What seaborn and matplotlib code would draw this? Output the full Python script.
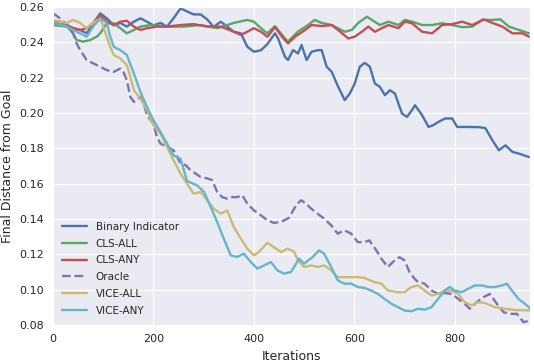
import numpy as np
import pandas as pd
import matplotlib
matplotlib.use("Agg")
import matplotlib.pyplot as plt
import seaborn as sns

# values
binary_x = [0, 28, 54, 67, 80, 94, 107, 121, 134, 147, 161, 174, 187, 200, 214, 227, 240, 254, 267, 280,
            294, 307, 320, 334, 347, 360, 374, 387, 400, 414, 427, 442, 448, 462, 468, 478, 488, 495, 505, 515,
            528, 535, 545, 555, 568, 581, 591, 601, 611, 621, 631, 641, 651, 661, 671, 681, 695, 705, 715, 721,
            735, 748, 757, 768, 781, 795, 805, 821, 848, 861, 875, 888, 901, 915, 928, 948]
binary_y = [0.251, 0.2489, 0.247, 0.2451, 0.2508, 0.2564, 0.2536, 0.2496, 0.251, 0.2489, 0.2517, 0.2536,
            0.2517, 0.2496, 0.251, 0.2489, 0.2536, 0.2592, 0.2575, 0.2558, 0.2558, 0.253, 0.2487, 0.2517,
            0.2489, 0.246, 0.2451, 0.2375, 0.2347, 0.2355, 0.239, 0.2451, 0.2423, 0.2318, 0.230, 0.2356,
            0.2337, 0.2385, 0.230, 0.2347, 0.2356, 0.2356, 0.2262, 0.2233, 0.2148, 0.2073, 0.211, 0.2167,
            0.2262, 0.2284, 0.2262, 0.2167, 0.2148, 0.2101, 0.2129, 0.211, 0.1997, 0.1978, 0.2016, 0.2044,
            0.1988, 0.1921, 0.1931, 0.195, 0.1969, 0.1969, 0.1921, 0.1921, 0.192, 0.1915, 0.1846, 0.1789,
            0.1817, 0.178, 0.177, 0.1751]

cls_all_x = [0, 28, 40, 47, 60, 74, 87, 94, 107, 121, 134, 147, 161, 174, 194, 227, 260, 294, 327, 347,
             360, 387, 400, 414, 427, 442, 462, 468, 488, 508, 521, 535, 555, 581, 595, 608, 625, 635, 651,
             668, 688, 701, 715, 735, 755, 775, 795, 815, 835, 855, 875, 891, 908, 928, 948]
cls_all_y = [0.2498, 0.2489, 0.2451, 0.2413, 0.2404, 0.2413, 0.2432, 0.2451, 0.2508, 0.2508, 0.248,
             0.2451, 0.247, 0.2489, 0.2498, 0.2489, 0.2489, 0.2498, 0.248, 0.2498, 0.251, 0.2527, 0.2517,
             0.248, 0.2451, 0.2492, 0.2422, 0.2404, 0.2461, 0.2498, 0.2527, 0.251, 0.2498, 0.246, 0.247,
             0.251, 0.2545, 0.2527, 0.2498, 0.2517, 0.2498, 0.2527, 0.2517, 0.2498, 0.2498, 0.2508, 0.2498,
             0.2486, 0.2489, 0.2527, 0.2527, 0.253, 0.2489, 0.247, 0.2451]

cls_any_x = [0, 14, 28, 40, 54, 67, 80, 94, 107, 121, 134, 147, 161, 174, 187, 207, 227, 254, 280, 307,
             334, 360, 374, 387, 400, 414, 427, 442, 456, 468, 482, 502, 515, 535, 555, 572, 588, 601, 615,
             628, 641, 655, 668, 688, 701, 715, 735, 755, 775, 795, 815, 835, 858, 875, 895, 915, 935, 948]
cls_any_y = [0.2517, 0.2517, 0.2498, 0.248, 0.247, 0.248, 0.251, 0.2551, 0.2517, 0.2498, 0.2517, 0.2522,
             0.2489, 0.247, 0.248, 0.2489, 0.2489, 0.2498, 0.2503, 0.2489, 0.2489, 0.246, 0.2442, 0.246,
             0.248, 0.246, 0.2432, 0.2486, 0.2432, 0.2394, 0.2432, 0.247, 0.2498, 0.2492, 0.2498, 0.246,
             0.2422, 0.2432, 0.246, 0.2489, 0.246, 0.248, 0.2498, 0.248, 0.2517, 0.2508, 0.246, 0.2451,
             0.2498, 0.2503, 0.2517, 0.2498, 0.253, 0.251, 0.2489, 0.2451, 0.2451, 0.2432]

oracle_x = [0, 14, 28, 40, 47, 54, 67, 80, 94, 107, 121, 134, 140, 147, 154, 161, 167, 174, 180, 187,
            200, 207, 214, 227, 240, 254, 264, 274, 294, 307, 317, 327, 337, 347, 357, 367, 377, 387, 400,
            414, 427, 440, 454, 470, 484, 494, 504, 514, 527, 540, 554, 567, 580, 594, 607, 620, 630, 644,
            654, 667, 677, 690, 700, 710, 720, 727, 740, 754, 767, 780, 794, 807, 820, 830, 844, 857, 870,
            884, 897, 910, 924, 937, 950]
oracle_y = [0.2564, 0.2536, 0.2498, 0.2451, 0.2394, 0.2356, 0.230, 0.2281, 0.2262, 0.2243, 0.2233, 0.2252,
            0.2233, 0.2186, 0.2091, 0.2063, 0.2072, 0.2091, 0.2063, 0.1988, 0.194, 0.1865, 0.1827, 0.1808,
            0.1789, 0.1714, 0.1705, 0.1676, 0.1638, 0.163, 0.162, 0.1553, 0.1524, 0.1515, 0.1524, 0.1524,
            0.1534, 0.1487, 0.1449, 0.1421, 0.1393, 0.1378, 0.1383, 0.1407, 0.1477, 0.1506, 0.1487, 0.1459,
            0.143, 0.1402, 0.1364, 0.1317, 0.1336, 0.1317, 0.1269, 0.1269, 0.1279, 0.1222, 0.1175, 0.1128,
            0.1157, 0.1184, 0.1166, 0.110, 0.1062, 0.1043, 0.1034, 0.0995, 0.0976, 0.0981, 0.0976, 0.0948,
            0.092, 0.0892, 0.0929, 0.0957, 0.0976, 0.092, 0.0873, 0.0863, 0.0863, 0.0816, 0.0825]

vice_all_x = [0, 14, 28, 40, 54, 67, 80, 94, 100, 107, 114, 121, 134, 147, 154, 161, 174, 187, 200, 214,
              227, 240, 254, 267, 280, 294, 307, 320, 334, 347, 360, 374, 387, 400, 410, 427, 440, 454, 467,
              480, 488, 500, 514, 527, 540, 554, 567, 580, 607, 620, 640, 654, 667, 687, 700, 714, 727, 740,
              754, 767, 780, 794, 807, 820, 834, 847, 860, 880, 900, 920, 940, 950]
vice_all_y = [0.2527, 0.2517, 0.251, 0.2527, 0.251, 0.248, 0.251, 0.2536, 0.2489, 0.2432, 0.2375, 0.2328,
              0.2309, 0.2271, 0.2205, 0.2129, 0.2082, 0.2016, 0.1931, 0.1884, 0.1808, 0.1733, 0.1657, 0.16,
              0.1544, 0.1553, 0.1506, 0.1459, 0.143, 0.1449, 0.1355, 0.1289, 0.1232, 0.1194, 0.1213, 0.1265,
              0.124, 0.1213, 0.1232, 0.1215, 0.1166, 0.1128, 0.1137, 0.1128, 0.1137, 0.1109, 0.1071, 0.1071,
              0.1071, 0.1067, 0.1043, 0.1034, 0.0995, 0.0986, 0.0986, 0.1015, 0.1024, 0.0995, 0.0967,
              0.0976, 0.0995, 0.0995, 0.0976, 0.0929, 0.0911, 0.0929, 0.0925, 0.0901, 0.0892, 0.0885,
              0.0883, 0.0883]

vice_any_x = [0, 28, 40, 54, 67, 80, 94, 107, 114, 121, 134, 147, 161, 174, 187, 200, 214, 227, 240, 254,
              267, 287, 301, 314, 327, 340, 354, 367, 380, 394, 407, 420, 434, 447, 460, 474, 490, 500, 517,
              530, 540, 554, 567, 580, 594, 607, 620, 634, 647, 660, 674, 687, 700, 714, 727, 740, 754, 767,
              780, 790, 800, 814, 827, 840, 854, 867, 880, 894, 904, 914, 927, 940, 950]
vice_any_y = [0.251, 0.2489, 0.247, 0.2451, 0.2432, 0.2489, 0.2536, 0.251, 0.2432, 0.2375, 0.2356, 0.2328,
              0.2224, 0.212, 0.2035, 0.1959, 0.1893, 0.1827, 0.1761, 0.1742, 0.1615, 0.159, 0.1553, 0.1468,
              0.1383, 0.1289, 0.1194, 0.1185, 0.1204, 0.1156, 0.1119, 0.1137, 0.1156, 0.1109, 0.1091, 0.110,
              0.1175, 0.1147, 0.1185, 0.1222, 0.1204, 0.1128, 0.1053, 0.1034, 0.1034, 0.1015, 0.1010, 0.0995,
              0.0976, 0.0948, 0.092, 0.0901, 0.0882, 0.0878, 0.0892, 0.0887, 0.0901, 0.0948, 0.0995, 0.1015,
              0.0995, 0.0986, 0.1005, 0.1024, 0.1024, 0.1015, 0.1015, 0.1024, 0.1034, 0.0995, 0.0948, 0.092,
              0.0895]

labels = ["Binary Indicator", "CLS-ALL", "CLS-ANY", "Oracle", "VICE-ALL", "VICE-ANY"]
series = [(binary_x, binary_y), (cls_all_x, cls_all_y), (cls_any_x, cls_any_y),
          (oracle_x, oracle_y), (vice_all_x, vice_all_y), (vice_any_x, vice_any_y)]
# old seaborn "deep" colours
colors = ["#4C72B0", "#55A868", "#C44E52", "#8172B2", "#CCB974", "#64B5CD"]
styles = ["-", "-", "-", "--", "-", "-"]

sns.set_style("darkgrid")
plt.rcParams['font.family'] = ['DejaVu Sans']

fig = plt.figure(figsize=(5.34, 3.63), dpi=100)
ax = fig.add_axes([0.0993, 0.1047, 0.8932, 0.876])

for (xs, ys), lab, col, ls in zip(series, labels, colors, styles):
    df = pd.DataFrame({'Iterations': xs, 'dist': ys})
    sns.lineplot(data=df, x='Iterations', y='dist', ax=ax, label=lab, color=col,
                 linestyle=ls, linewidth=1.7, errorbar=None)

ax.set_xlim(0, 950)
ax.set_ylim(0.08, 0.26)
ax.set_xticks([0, 200, 400, 600, 800])
ax.set_yticks(np.arange(0.08, 0.261, 0.02))
ax.yaxis.set_major_formatter(matplotlib.ticker.FormatStrFormatter('%.2f'))
ax.tick_params(labelsize=8, colors='#262626', pad=3)
ax.set_xlabel('Iterations', fontsize=9, color='#262626')
ax.set_ylabel('Final Distance from Goal', fontsize=9, color='#262626')

leg = ax.legend(loc='lower left', frameon=False, fontsize=7.5, handlelength=2.4,
                labelspacing=0.65, bbox_to_anchor=(0.0, 0.0))

plt.savefig('out.png', dpi=100)
plt.close()
